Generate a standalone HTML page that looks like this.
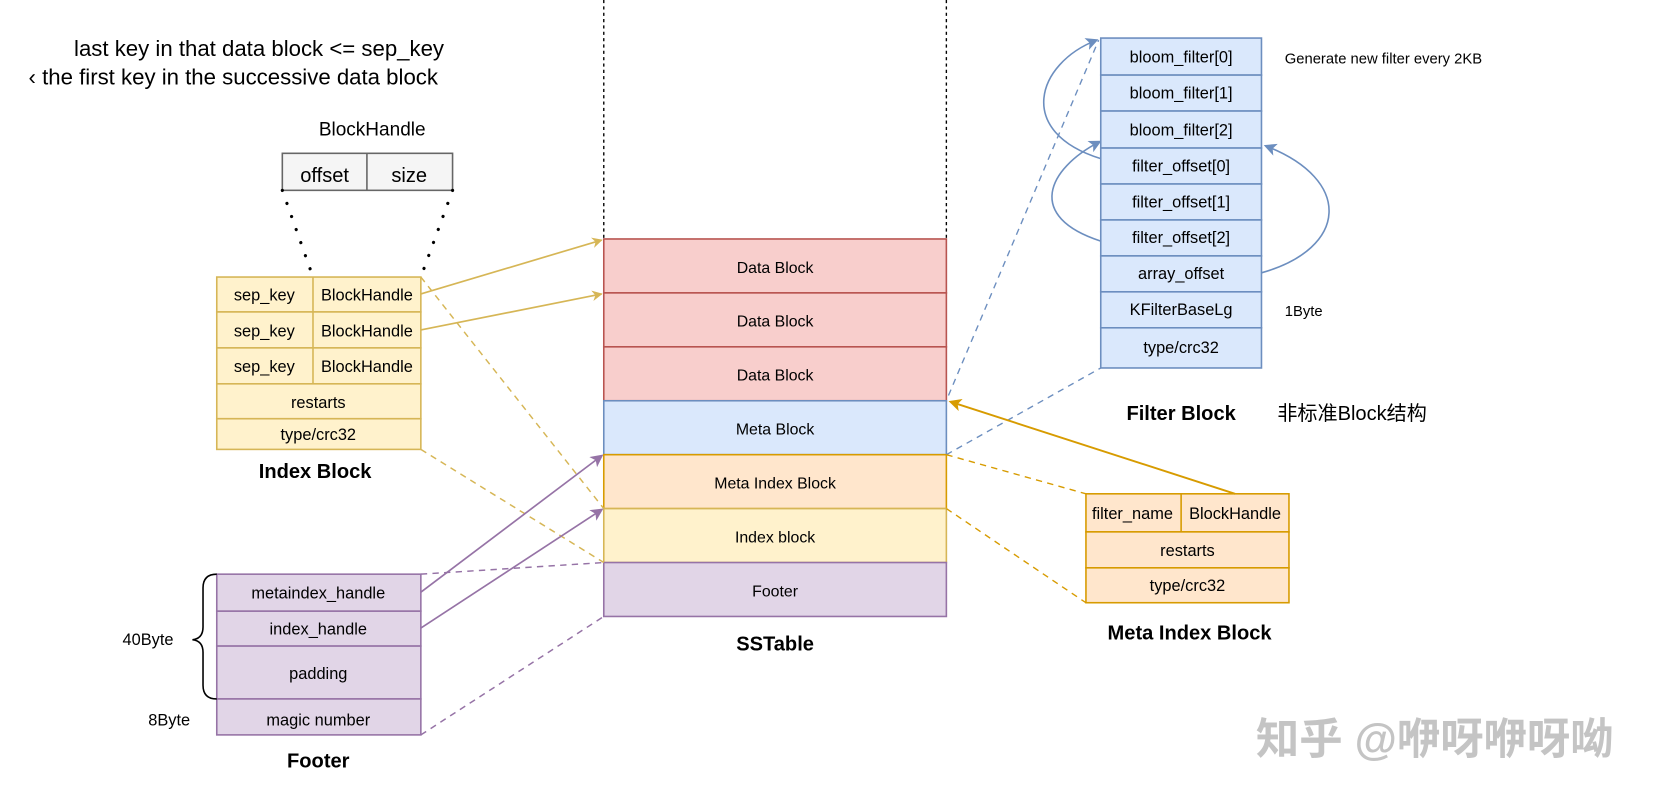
<!DOCTYPE html>
<html><head><meta charset="utf-8"><style>
html,body{margin:0;padding:0;background:#fff;}
svg{display:block;}
text{font-family:"Liberation Sans","Noto Sans CJK SC",sans-serif;fill:#000;}
</style></head><body>
<svg width="1658" height="805" viewBox="0 0 1568 761.3" xmlns="http://www.w3.org/2000/svg">
<defs>
<marker id="ag" markerWidth="10" markerHeight="10" refX="9" refY="5" orient="auto" markerUnits="userSpaceOnUse"><path d="M0,0 L10,5 L0,10 L3,5 z" fill="#d6b656"/></marker>
<marker id="ao" markerWidth="12" markerHeight="12" refX="10" refY="6" orient="auto" markerUnits="userSpaceOnUse"><path d="M0,0 L12,6 L0,12 L3,6 z" fill="#d79b00"/></marker>
<marker id="ap" markerWidth="12" markerHeight="12" refX="10" refY="6" orient="auto" markerUnits="userSpaceOnUse"><path d="M0,0 L12,6 L0,12 L3,6 z" fill="#9673a6"/></marker>
<marker id="ab" markerWidth="12" markerHeight="12" refX="10" refY="6" orient="auto" markerUnits="userSpaceOnUse"><path d="M0,0 L12,6 L0,12 L3,6 z" fill="#6c8ebf"/></marker>
</defs>

<text x="70" y="53" font-size="21">last key in that data block &lt;= sep_key</text>
<text x="27" y="80" font-size="21">‹  the first key in the successive data block</text>

<line x1="571" y1="0" x2="571" y2="226" stroke="#000" stroke-width="1.3" stroke-dasharray="3,3"/>
<line x1="895" y1="0" x2="895" y2="226" stroke="#000" stroke-width="1.3" stroke-dasharray="3,3"/>

<g stroke-width="1.5" font-size="15" text-anchor="middle">
<rect x="571" y="226" width="324" height="51" fill="#f8cecc" stroke="#b85450"/>
<rect x="571" y="277" width="324" height="51" fill="#f8cecc" stroke="#b85450"/>
<rect x="571" y="328" width="324" height="51" fill="#f8cecc" stroke="#b85450"/>
<rect x="571" y="379" width="324" height="51" fill="#dae8fc" stroke="#6c8ebf"/>
<rect x="571" y="430" width="324" height="51" fill="#ffe6cc" stroke="#d79b00"/>
<rect x="571" y="481" width="324" height="51" fill="#fff2cc" stroke="#d6b656"/>
<rect x="571" y="532" width="324" height="51" fill="#e1d5e7" stroke="#9673a6"/>
<text x="733" y="258">Data Block</text>
<text x="733" y="309">Data Block</text>
<text x="733" y="360">Data Block</text>
<text x="733" y="411">Meta Block</text>
<text x="733" y="462">Meta Index Block</text>
<text x="733" y="513">Index block</text>
<text x="733" y="564">Footer</text>
</g>
<text x="733" y="615" font-size="19" font-weight="bold" text-anchor="middle">SSTable</text>

<text x="352" y="128" font-size="18" text-anchor="middle">BlockHandle</text>
<rect x="267" y="145" width="161" height="35" fill="#f5f5f5" stroke="#666" stroke-width="1.5"/>
<line x1="347" y1="145" x2="347" y2="180" stroke="#666" stroke-width="1.5"/>
<text x="307" y="172" font-size="19" text-anchor="middle">offset</text>
<text x="387" y="172" font-size="19" text-anchor="middle">size</text>
<line x1="267" y1="180" x2="296" y2="262" stroke="#000" stroke-width="3" stroke-dasharray="0.1,13" stroke-linecap="round"/>
<line x1="428" y1="180" x2="398" y2="262" stroke="#000" stroke-width="3" stroke-dasharray="0.1,13" stroke-linecap="round"/>

<g fill="#fff2cc" stroke="#d6b656" stroke-width="1.5">
<rect x="205" y="262" width="193" height="33"/>
<rect x="205" y="295" width="193" height="34"/>
<rect x="205" y="329" width="193" height="34"/>
<rect x="205" y="363" width="193" height="33"/>
<rect x="205" y="396" width="193" height="29"/>
<line x1="296" y1="262" x2="296" y2="363"/>
</g>
<g font-size="15.5" text-anchor="middle">
<text x="250" y="284">sep_key</text><text x="347" y="284">BlockHandle</text>
<text x="250" y="318">sep_key</text><text x="347" y="318">BlockHandle</text>
<text x="250" y="352">sep_key</text><text x="347" y="352">BlockHandle</text>
<text x="301" y="386">restarts</text>
<text x="301" y="416">type/crc32</text>
</g>
<text x="298" y="452" font-size="19" font-weight="bold" text-anchor="middle">Index Block</text>

<line x1="398" y1="278" x2="569" y2="227" stroke="#d6b656" stroke-width="1.6" marker-end="url(#ag)"/>
<line x1="398" y1="312" x2="569" y2="278" stroke="#d6b656" stroke-width="1.6" marker-end="url(#ag)"/>
<line x1="398" y1="262" x2="571" y2="481" stroke="#d6b656" stroke-width="1.4" stroke-dasharray="6,5"/>
<line x1="398" y1="425" x2="571" y2="532" stroke="#d6b656" stroke-width="1.4" stroke-dasharray="6,5"/>

<g fill="#e1d5e7" stroke="#9673a6" stroke-width="1.5">
<rect x="205" y="543" width="193" height="35"/>
<rect x="205" y="578" width="193" height="33"/>
<rect x="205" y="611" width="193" height="50"/>
<rect x="205" y="661" width="193" height="34"/>
</g>
<g font-size="15.5" text-anchor="middle">
<text x="301" y="566">metaindex_handle</text>
<text x="301" y="600">index_handle</text>
<text x="301" y="642">padding</text>
<text x="301" y="686">magic number</text>
</g>
<text x="301" y="726" font-size="19" font-weight="bold" text-anchor="middle">Footer</text>
<path d="M205,543 Q192,543 192,556 L192,593 Q192,604 182,605 Q192,606 192,617 L192,648 Q192,661 205,661" fill="none" stroke="#000" stroke-width="1.5"/>
<text x="140" y="610" font-size="15.5" text-anchor="middle">40Byte</text>
<text x="160" y="686" font-size="15.5" text-anchor="middle">8Byte</text>

<line x1="398" y1="560" x2="569" y2="431" stroke="#9673a6" stroke-width="1.6" marker-end="url(#ap)"/>
<line x1="398" y1="594" x2="569" y2="482" stroke="#9673a6" stroke-width="1.6" marker-end="url(#ap)"/>
<line x1="398" y1="543" x2="571" y2="532" stroke="#9673a6" stroke-width="1.4" stroke-dasharray="6,5"/>
<line x1="398" y1="695" x2="571" y2="583" stroke="#9673a6" stroke-width="1.4" stroke-dasharray="6,5"/>

<g fill="#dae8fc" stroke="#6c8ebf" stroke-width="1.5">
<rect x="1041" y="36" width="152" height="35"/>
<rect x="1041" y="71" width="152" height="34"/>
<rect x="1041" y="105" width="152" height="35"/>
<rect x="1041" y="140" width="152" height="34"/>
<rect x="1041" y="174" width="152" height="34"/>
<rect x="1041" y="208" width="152" height="34"/>
<rect x="1041" y="242" width="152" height="34"/>
<rect x="1041" y="276" width="152" height="34"/>
<rect x="1041" y="310" width="152" height="38"/>
</g>
<g font-size="15.5" text-anchor="middle">
<text x="1117" y="59">bloom_filter[0]</text>
<text x="1117" y="93">bloom_filter[1]</text>
<text x="1117" y="128">bloom_filter[2]</text>
<text x="1117" y="162">filter_offset[0]</text>
<text x="1117" y="196">filter_offset[1]</text>
<text x="1117" y="230">filter_offset[2]</text>
<text x="1117" y="264">array_offset</text>
<text x="1117" y="298">KFilterBaseLg</text>
<text x="1117" y="334">type/crc32</text>
</g>
<text x="1215" y="60" font-size="14">Generate new filter every 2KB</text>
<text x="1215" y="299" font-size="14">1Byte</text>
<text x="1117" y="397" font-size="19" font-weight="bold" text-anchor="middle">Filter Block</text>
<text x="1208" y="397" font-size="19">非标准Block结构</text>

<path d="M1041,150 C960,125 980,60 1037,38" fill="none" stroke="#6c8ebf" stroke-width="1.5" marker-end="url(#ab)"/>
<path d="M1041,228 C970,205 990,160 1040,134" fill="none" stroke="#6c8ebf" stroke-width="1.5" marker-end="url(#ab)"/>
<path d="M1193,258 C1275,235 1280,170 1197,138" fill="none" stroke="#6c8ebf" stroke-width="1.5" marker-end="url(#ab)"/>
<line x1="897" y1="374" x2="1039" y2="38" stroke="#6c8ebf" stroke-width="1.3" stroke-dasharray="6,5"/>
<line x1="895" y1="430" x2="1041" y2="348" stroke="#6c8ebf" stroke-width="1.3" stroke-dasharray="6,5"/>

<g fill="#ffe6cc" stroke="#d79b00" stroke-width="1.5">
<rect x="1027" y="467" width="192" height="36"/>
<rect x="1027" y="503" width="192" height="34"/>
<rect x="1027" y="537" width="192" height="33"/>
<line x1="1117" y1="467" x2="1117" y2="503"/>
</g>
<g font-size="15.5" text-anchor="middle">
<text x="1071" y="491">filter_name</text>
<text x="1168" y="491">BlockHandle</text>
<text x="1123" y="526">restarts</text>
<text x="1123" y="559">type/crc32</text>
</g>
<text x="1125" y="605" font-size="19" font-weight="bold" text-anchor="middle">Meta Index Block</text>
<line x1="1168" y1="467" x2="899" y2="380" stroke="#d79b00" stroke-width="1.8" marker-end="url(#ao)"/>
<line x1="895" y1="430" x2="1027" y2="467" stroke="#d79b00" stroke-width="1.3" stroke-dasharray="6,5"/>
<line x1="895" y1="481" x2="1027" y2="570" stroke="#d79b00" stroke-width="1.3" stroke-dasharray="6,5"/>

<text x="1526" y="713" font-size="41" font-weight="bold" text-anchor="end" style="fill:#c4c4c4" font-family="'Noto Sans CJK SC',sans-serif">知乎 @咿呀咿呀呦</text>
</svg>
</body></html>
